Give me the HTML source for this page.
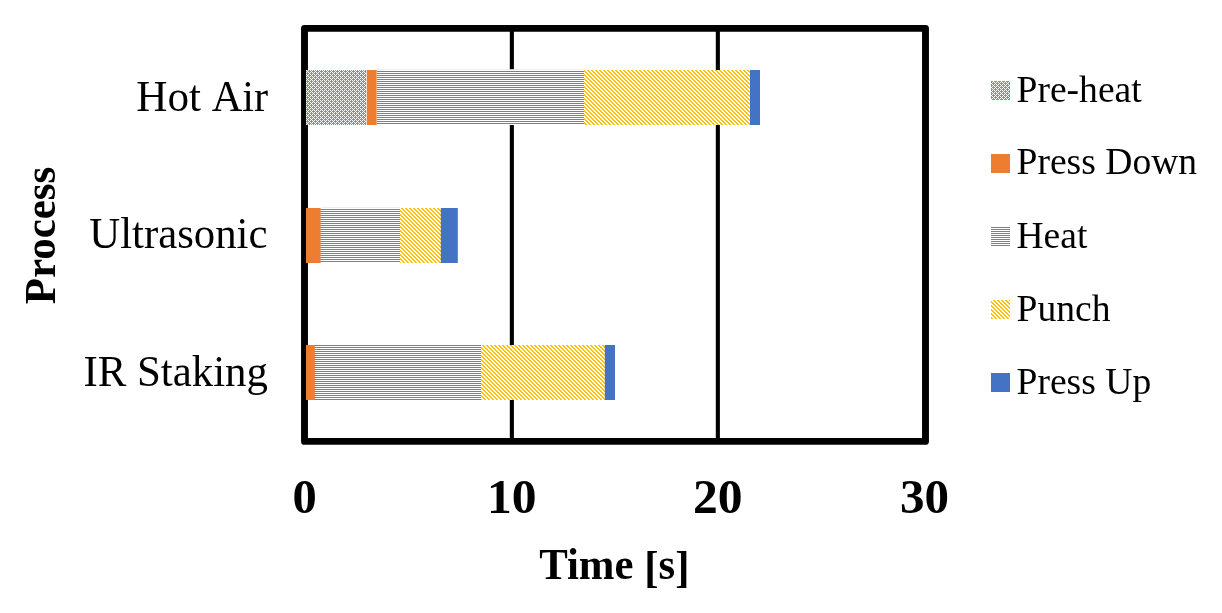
<!DOCTYPE html>
<html><head><meta charset="utf-8"><title>Process time chart</title>
<style>
html,body{margin:0;padding:0;background:#fff;}
body{width:1222px;height:613px;overflow:hidden;}
svg{display:block;}
text{font-family:"Liberation Serif","Times New Roman",serif;fill:#000;}
.cat{font-size:44px;text-anchor:end;}
.num{font-size:48.5px;font-weight:bold;text-anchor:middle;}
.ttl{font-size:44px;font-weight:bold;text-anchor:middle;}
.leg{font-size:37.1px;}
</style></head><body>
<svg width="1222" height="613" viewBox="0 0 1222 613">
<defs>
<pattern id="pPre" x="1" y="3" width="4" height="4" patternUnits="userSpaceOnUse">
<rect width="4" height="4" fill="#5b9bd5"/>
<g fill="#fff" shape-rendering="crispEdges">
<rect x="2" y="0" width="1" height="1"/><rect x="1" y="1" width="1" height="1"/><rect x="3" y="1" width="1" height="1"/>
<rect x="0" y="2" width="1" height="1"/><rect x="1" y="3" width="1" height="1"/><rect x="3" y="3" width="1" height="1"/>
</g></pattern>
<pattern id="pHeat" x="0" y="0" width="4" height="2" patternUnits="userSpaceOnUse">
<rect width="4" height="2" fill="#fff"/><rect x="0" y="1" width="4" height="1" fill="#7f7f7f" shape-rendering="crispEdges"/>
</pattern>
<pattern id="pPunch" x="1" y="0" width="4" height="4" patternUnits="userSpaceOnUse">
<rect width="4" height="4" fill="#fff"/>
<g fill="#ffc000" shape-rendering="crispEdges">
<rect x="0" y="0" width="2" height="1"/><rect x="1" y="1" width="2" height="1"/><rect x="2" y="2" width="2" height="1"/>
<rect x="3" y="3" width="1" height="1"/><rect x="0" y="3" width="1" height="1"/>
</g></pattern>
</defs>
<rect width="1222" height="613" fill="#fff"/>
<!-- gridlines -->
<rect x="509.8" y="30" width="4.1" height="410" fill="#000"/>
<rect x="715.8" y="30" width="4.1" height="410" fill="#000"/>
<!-- plot border -->
<rect x="304.5" y="28.4" width="621" height="413" fill="none" stroke="#000" stroke-width="6.9" stroke-linejoin="round"/>
<!-- bars: Hot Air -->
<rect x="377" y="69.2" width="207" height="0.8" fill="#ececec"/><rect x="321" y="207.2" width="79" height="0.8" fill="#ececec"/>
<g shape-rendering="crispEdges">
<rect x="306" y="70" width="60" height="55" fill="url(#pPre)"/>
<rect x="377" y="70" width="207" height="55" fill="url(#pHeat)"/>
<rect x="584" y="70" width="166" height="55" fill="url(#pPunch)"/>
<!-- Ultrasonic -->
<rect x="320" y="208" width="80" height="55" fill="url(#pHeat)"/>
<rect x="400" y="208" width="41" height="55" fill="url(#pPunch)"/>
<!-- IR Staking -->
<rect x="314" y="345" width="167" height="55" fill="url(#pHeat)"/>
<rect x="481" y="345" width="124" height="55" fill="url(#pPunch)"/>
</g>
<g>
<rect x="366.7" y="70" width="10" height="55" fill="#ed7d31"/>
<rect x="750" y="70" width="10" height="55" fill="#4472c4"/>
<rect x="306" y="208" width="14.5" height="55" fill="#ed7d31"/>
<rect x="440.8" y="208" width="17" height="55" fill="#4472c4"/>
<rect x="306" y="345" width="8.8" height="55" fill="#ed7d31"/>
<rect x="604.8" y="345" width="10.2" height="55" fill="#4472c4"/>
</g>
<!-- category labels -->
<text class="cat" y="111" style="text-anchor:start"><tspan x="136.3" textLength="64.75" lengthAdjust="spacingAndGlyphs">Hot</tspan> <tspan x="211.7" textLength="56.4" lengthAdjust="spacingAndGlyphs">Air</tspan></text>
<text class="cat" x="267.5" y="248" textLength="178.2" lengthAdjust="spacingAndGlyphs">Ultrasonic</text>
<text class="cat" x="268" y="385.7" textLength="184.6" lengthAdjust="spacingAndGlyphs">IR Staking</text>
<!-- axis numbers -->
<text class="num" x="304.5" y="512.5">0</text>
<text class="num" x="511.8" y="512.5" textLength="49.6" lengthAdjust="spacingAndGlyphs">10</text>
<text class="num" x="717.8" y="512.5" textLength="49.6" lengthAdjust="spacingAndGlyphs">20</text>
<text class="num" x="924.5" y="512.5" textLength="49" lengthAdjust="spacingAndGlyphs">30</text>
<text class="ttl" x="614.3" y="579.3" textLength="150.2" lengthAdjust="spacingAndGlyphs">Time <tspan dy="2.5">[</tspan><tspan dy="-2.5">s</tspan><tspan dy="2.5">]</tspan></text>
<text class="ttl" transform="translate(54.7,235.5) rotate(-90)" textLength="137.6" lengthAdjust="spacingAndGlyphs">Process</text>
<!-- legend -->
<g shape-rendering="crispEdges">
<rect x="991" y="81" width="19" height="19" fill="url(#pPre)"/>
<rect x="991" y="154" width="19" height="19" fill="#ed7d31"/>
<rect x="991" y="227" width="19" height="19" fill="url(#pHeat)"/>
<rect x="991" y="300" width="19" height="19" fill="url(#pPunch)"/>
<rect x="991" y="373" width="19" height="19" fill="#4472c4"/>
</g>
<text class="leg" x="1016.5" y="101.5" textLength="125.2" lengthAdjust="spacingAndGlyphs">Pre-heat</text>
<text class="leg" x="1016.5" y="174.4" textLength="180.6" lengthAdjust="spacingAndGlyphs">Press Down</text>
<text class="leg" x="1016.5" y="247.9" textLength="70.9" lengthAdjust="spacingAndGlyphs">Heat</text>
<text class="leg" x="1016.5" y="320.6" textLength="93.95" lengthAdjust="spacingAndGlyphs">Punch</text>
<text class="leg" x="1016.5" y="393.8" textLength="134.7" lengthAdjust="spacingAndGlyphs">Press Up</text>
</svg>
</body></html>
